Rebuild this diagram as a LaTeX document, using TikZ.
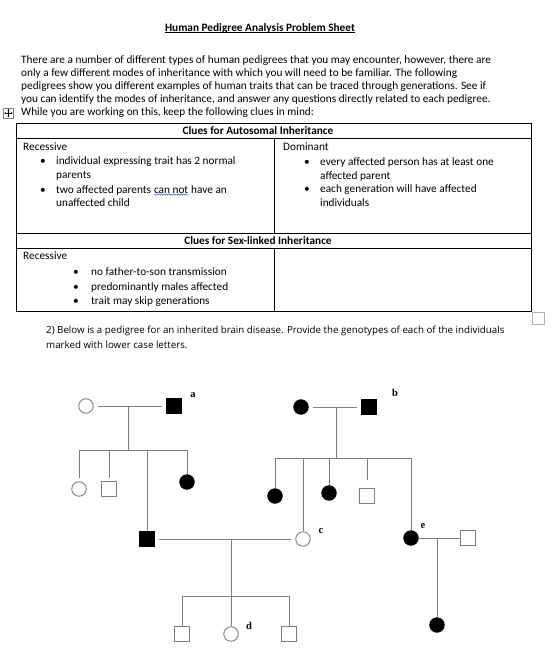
\documentclass[tikz,border=0pt]{standalone}
\usepackage{fontspec}
\setmainfont{Carlito}
\newfontfamily\qfont{Open Sans}
\newfontfamily\tagfont{Liberation Serif}
\usetikzlibrary{positioning,arrows.meta,decorations.pathmorphing}
\definecolor{pedgray}{HTML}{7F7F7F}
\definecolor{spellblue}{HTML}{3B6FD6}

\begin{document}
\begin{tikzpicture}[x=1pt, y=-1pt,
    bodyText/.style={anchor=west, inner sep=0pt, font=\fontsize{11.3}{13}\selectfont},
    headText/.style={inner sep=0pt, font=\fontsize{11.3}{13}\selectfont\bfseries},
    askText/.style={anchor=west, inner sep=0pt, font=\qfont\fontsize{9.75}{12}\selectfont},
    pedLine/.style={draw=pedgray, line width=1pt},
    spouse/.style={pedLine, shorten <=4pt, shorten >=4pt},
    male/.style={rectangle, draw=pedgray, line width=0.9pt, fill=white, minimum size=14.5pt, inner sep=0pt},
    female/.style={circle, draw=pedgray, line width=0.9pt, fill=white, minimum size=14.5pt, inner sep=0pt},
    sick/.style={fill=black, draw=black},
    tagLabel/.style={inner sep=0pt, font=\tagfont\bfseries\fontsize{10.5}{10.5}\selectfont}
]
    \useasboundingbox (0,0) rectangle (554,665);

    \node[headText] (title) at (260,28) {Human Pedigree Analysis Problem Sheet};
    \draw[line width=0.7pt] ([yshift=1pt]title.south west) -- ([yshift=1pt]title.south east);

    \node[bodyText] (p1) at (21,61) {There are a number of different types of human pedigrees that you may encounter, however, there are};
    \node[bodyText] (p2) at (21,74) {only a few different modes of inheritance with which you will need to be familiar. The following};
    \node[bodyText] (p3) at (21,87) {pedigrees show you different examples of human traits that can be traced through generations. See if};
    \node[bodyText] (p4) at (21,100) {you can identify the modes of inheritance, and answer any questions directly related to each pedigree.};
    \node[bodyText] (p5) at (21,113) {While you are working on this, keep the following clues in mind:};

    % table handle
    \node[draw=gray, line width=0.6pt, minimum size=10pt, inner sep=0pt] (grip) at (8.5,113) {};
    \foreach \side in {north,south,east,west}
        \draw[line width=0.5pt, -{Stealth[length=1.6pt,width=2pt]}, shorten >=1.2pt] (grip.center) -- (grip.\side);

    % clue table
    \draw[line width=0.8pt] (16,123) rectangle (531,311);
    \draw[line width=0.8pt] (16,138) -- (531,138) (274,138) -- (274,233)
        (16,233) -- (531,233) (16,248) -- (531,248) (274,248) -- (274,311);

    \node[headText] (autoHead) at (258,131) {Clues for Autosomal Inheritance};
    \node[bodyText] (recA) at (23,147) {Recessive};
    \node[bodyText] (recA1) at (40,162) {\makebox[16pt][l]{\textbullet}individual expressing trait has 2 normal};
    \node[bodyText] (recA2) at (56,176) {parents};
    \node[bodyText] (recA3) at (40,190) {\makebox[16pt][l]{\textbullet}two affected parents};
    \node[bodyText, anchor=base west, xshift=2.5pt] (recA3b) at (recA3.base east) {can not};
    \node[bodyText, anchor=base west, xshift=2.5pt] (recA3c) at (recA3b.base east) {have an};
    \draw[spellblue, line width=0.5pt, decorate, decoration={snake, amplitude=0.7pt, segment length=2.4pt}]
        ([yshift=-1.5pt]recA3b.base west) -- ([yshift=-1.5pt]recA3b.base east);
    \node[bodyText] (recA4) at (56,203) {unaffected child};

    \node[bodyText] (domA) at (283,147) {Dominant};
    \node[bodyText] (domA1) at (304,162) {\makebox[16pt][l]{\textbullet}every affected person has at least one};
    \node[bodyText] (domA2) at (320,176) {affected parent};
    \node[bodyText] (domA3) at (304,190) {\makebox[16pt][l]{\textbullet}each generation will have affected};
    \node[bodyText] (domA4) at (320,203) {individuals};

    \node[headText] (sexHead) at (258,241) {Clues for Sex-linked Inheritance};
    \node[bodyText] (recX) at (23,256) {Recessive};
    \node[bodyText] (recX1) at (73,272) {\makebox[18pt][l]{\textbullet}no father-to-son transmission};
    \node[bodyText] (recX2) at (73,287) {\makebox[18pt][l]{\textbullet}predominantly males affected};
    \node[bodyText] (recX3) at (73,302) {\makebox[18pt][l]{\textbullet}trait may skip generations};

    \node[draw=gray!60, line width=0.6pt, minimum size=12pt, inner sep=0pt] (tick) at (538.5,318) {};

    \node[askText] (ask1) at (46,331) {2) Below is a pedigree for an inherited brain disease. Provide the genotypes of each of the individuals};
    \node[askText] (ask2) at (46,345) {marked with lower case letters.};

    % generation I
    \node[female] (i1) at (86,406) {};
    \node[male, sick] (i2) at (174,406) {};
    \node[tagLabel] (tagA) at (193,395) {a};
    \node[female, sick] (i3) at (301,407) {};
    \node[male, sick] (i4) at (369,407) {};
    \node[tagLabel] (tagB) at (395,393) {b};

    % generation II
    \node[female] (ii1) at (79,489) {};
    \node[male] (ii2) at (109,489) {};
    \node[male, sick] (ii3) at (147,539) {};
    \node[female, sick] (ii4) at (187,482) {};
    \node[female, sick] (ii5) at (275,496) {};
    \node[female] (ii6) at (303,539) {};
    \node[tagLabel] (tagC) at (321,531) {c};
    \node[female, sick] (ii7) at (329,493) {};
    \node[male] (ii8) at (367,496) {};
    \node[female, sick] (ii9) at (411,538) {};
    \node[tagLabel] (tagE) at (423,526) {e};
    \node[male] (ii10) at (468,538) {};

    % generation III
    \node[male] (iii1) at (182,634) {};
    \node[female] (iii2) at (231,634) {};
    \node[tagLabel] (tagD) at (249,626) {d};
    \node[male] (iii3) at (289,634) {};
    \node[female, sick] (iii4) at (437,625) {};

    \coordinate (m1) at (128,406);
    \coordinate (s1) at (128,450);
    \coordinate (m2) at (336,407);
    \coordinate (s2) at (336,458);
    \coordinate (m3) at (231,539);
    \coordinate (s3) at (231,596);
    \coordinate (m4) at (437,538);

    \draw[spouse] (i1) -- (i2);
    \draw[pedLine] (m1) -- (s1);
    \draw[pedLine] (ii1.north |- s1) -- (ii4.north |- s1);
    \foreach \kid in {ii1,ii2}
        \draw[pedLine, shorten >=3pt] (\kid.north |- s1) -- (\kid.north);
    \foreach \kid in {ii3,ii4}
        \draw[pedLine] (\kid.north |- s1) -- (\kid.north);

    \draw[spouse] (i3) -- (i4);
    \draw[pedLine] (m2) -- (s2);
    \draw[pedLine] (ii5.north |- s2) -- (ii9.north |- s2);
    \foreach \kid in {ii5,ii6,ii7,ii9}
        \draw[pedLine] (\kid.north |- s2) -- (\kid.north);
    \draw[pedLine, shorten >=8pt] (ii8.north |- s2) -- (ii8.north);

    \draw[spouse] (ii3) -- (ii6);
    \draw[pedLine] (m3) -- (s3);
    \draw[pedLine] (iii1.north |- s3) -- (iii3.north |- s3);
    \foreach \kid in {iii1,iii2,iii3}
        \draw[pedLine] (\kid.north |- s3) -- (\kid.north);

    \draw[pedLine] (ii9) -- (ii10);
    \draw[pedLine] (m4) -- (iii4);
\end{tikzpicture}
\end{document}
